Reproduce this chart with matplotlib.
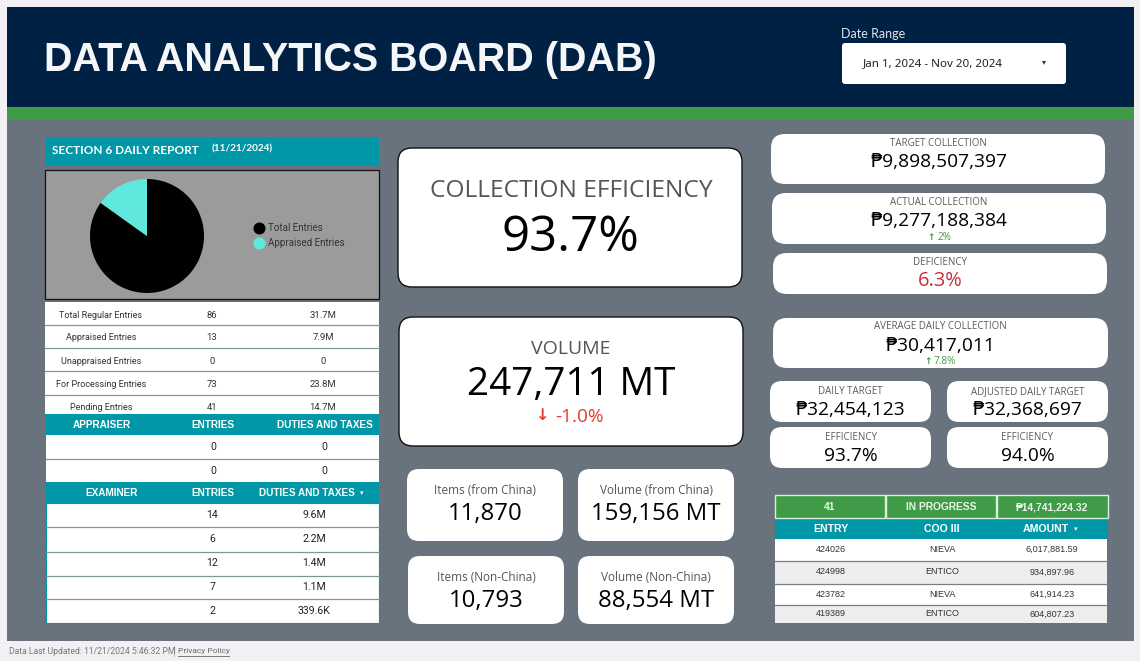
import matplotlib
matplotlib.use("Agg")
import matplotlib.pyplot as plt
from matplotlib.patches import FancyBboxPatch, Rectangle

W, H = 1140, 661

# colours
NAVY = '#002044'
GREEN = '#3f9b46'
SLATE = '#69737d'
TEAL = '#0097a7'
GREY_TXT = '#5a5a5a'
KPI_FONT = ['Open Sans', 'DejaVu Sans']
TBL_FONT = ['Roboto', 'DejaVu Sans']

# data
pie_labels = ['Total Entries', 'Appraised Entries']
pie_values = [73, 13]

summary_names = ['Total Regular Entries', 'Appraised Entries', 'Unappraised Entries',
                 'For Processing Entries', 'Pending Entries']
summary_entries = ['86', '13', '0', '73', '41']
summary_duties = ['31.7M', '7.9M', '0', '23.8M', '14.7M']

appraiser_entries = ['0', '0']
appraiser_duties = ['0', '0']

examiner_entries = ['14', '6', '12', '7', '2']
examiner_duties = ['9.6M', '2.2M', '1.4M', '1.1M', '339.6K']

progress_cells = ['41', 'IN PROGRESS', '₱14,741,224.32']
entry_ids = ['424026', '424998', '423782', '419389']
entry_coo = ['NIEVA', 'ENTICO', 'NIEVA', 'ENTICO']
entry_amounts = ['6,017,881.59', '934,897.96', '641,914.23', '604,807.23']


fig = plt.figure(figsize=(W / 100, H / 100), dpi=100, facecolor='#f1f1f3')
ax = fig.add_axes([0, 0, 1, 1])
ax.set_xlim(0, W)
ax.set_ylim(H, 0)
ax.axis('off')


def rect(x0, y0, x1, y1, color, edge='none', lw=0, z=1):
    ax.add_patch(Rectangle((x0, y0), x1 - x0, y1 - y0, facecolor=color, edgecolor=edge, linewidth=lw, zorder=z))


def card(x0, y0, x1, y1, r=14, edge='none', lw=0):
    ax.add_patch(FancyBboxPatch((x0, y0), x1 - x0, y1 - y0, boxstyle='round,pad=0,rounding_size=%d' % r,
                                facecolor='white', edgecolor=edge, linewidth=lw, zorder=2))


def txt(x, y, s, px, color='black', family=KPI_FONT, weight='normal', ha='center'):
    # px is the font size in screen pixels, open sans sits a bit high so nudge it
    if family is KPI_FONT:
        y = y + 0.08 * px
    ax.text(x, y, s, fontsize=px * 0.72, color=color, family=family, weight=weight,
            ha=ha, va='center', zorder=5)


# page frame
rect(7, 7, 1134, 107, NAVY)
rect(7, 107, 1134, 120, GREEN)
rect(7, 120, 1134, 641, SLATE)

# header
txt(44, 60, 'DATA ANALYTICS BOARD (DAB)', 39.5, '#f4f6f8', ['Liberation Sans'], 'bold', 'left')
txt(841, 34, 'Date Range', 12.5, '#dfe6ee', ['Lato'], ha='left')
ax.add_patch(FancyBboxPatch((842, 43), 224, 41, boxstyle='round,pad=0,rounding_size=3',
                            facecolor='white', edgecolor='none', zorder=2))
txt(863, 64, 'Jan 1, 2024 - Nov 20, 2024', 11.6, '#222222', ['Noto Sans'], ha='left')
txt(1044, 62, '▾', 8, '#333333', ['DejaVu Sans'])

# left column: section title and pie panel
rect(45, 137, 379, 166, TEAL)
txt(52, 150, 'SECTION 6 DAILY REPORT', 11.8, 'white', ['Lato'], 'bold', 'left')
txt(212, 149, '(11/21/2024)', 10, 'white', ['Lato'], 'bold', 'left')
rect(45, 170, 379, 299, '#9b9b9b', '#111111', 0.9)

pie_ax = fig.add_axes([90 / W, 1 - 293 / H, 114 / W, 114 / H])
pie_ax.pie(pie_values, colors=['black', '#60e8df'], startangle=90, counterclock=False, radius=1.0)
pie_ax.set_xlim(-1, 1)
pie_ax.set_ylim(-1, 1)

for y, label, c in zip([227.5, 243], pie_labels, ['black', '#60e8df']):
    ax.scatter([259], [y], s=75, color=c, linewidths=0, zorder=4)
    txt(268, y + 0.5, label, 9.8, '#333333', TBL_FONT, ha='left')

# summary table
rect(45, 302, 379, 414, 'white')
for y in [325, 348, 371, 395]:
    ax.plot([45, 379], [y, y], color='#7f978c', lw=0.9, zorder=3)
for y, n, e, d in zip([315, 338, 361, 384.5, 407.5], summary_names, summary_entries, summary_duties):
    txt(101, y, n, 9, '#333333', TBL_FONT)
    txt(212, y, e, 9.5, '#333333', TBL_FONT)
    txt(323, y, d, 9.5, '#333333', TBL_FONT)

# appraiser table
rect(46, 414, 379, 435, TEAL)
txt(102, 425, 'APPRAISER', 10, 'white', ['Liberation Sans'], 'bold')
txt(213, 425, 'ENTRIES', 10, 'white', ['Liberation Sans'], 'bold')
txt(325, 425, 'DUTIES AND TAXES', 10, 'white', ['Liberation Sans'], 'bold')
rect(46, 435, 379, 482, 'white')
ax.plot([46, 379], [459, 459], color='#7f978c', lw=0.9, zorder=3)
for y, e, d in zip([447, 470.5], appraiser_entries, appraiser_duties):
    txt(213, y, e, 10.5, '#222222', TBL_FONT)
    txt(324, y, d, 10.5, '#222222', TBL_FONT)

# examiner table
rect(46, 482, 379, 503, TEAL)
txt(112, 493.5, 'EXAMINER', 10, 'white', ['Liberation Sans'], 'bold')
txt(213, 493.5, 'ENTRIES', 10, 'white', ['Liberation Sans'], 'bold')
txt(307, 493.5, 'DUTIES AND TAXES', 10, 'white', ['Liberation Sans'], 'bold')
txt(362, 493, '▾', 7, 'white', ['DejaVu Sans'])
rect(46, 503, 379, 623, 'white', TEAL, 0.8)
for y in [526.5, 551.5, 575.5, 599]:
    ax.plot([46, 379], [y, y], color='#7f978c', lw=0.9, zorder=3)
for y, e, d in zip([514.5, 539, 563, 587, 611], examiner_entries, examiner_duties):
    txt(212, y, e, 10.5, '#222222', TBL_FONT)
    txt(314, y, d, 10.5, '#222222', TBL_FONT)

# centre column
card(398, 148, 742, 287, 14, '#111111', 1)
txt(571, 189, 'COLLECTION EFFICIENCY', 24.5, '#555555')
txt(570, 234, '93.7%', 49)

card(399, 317, 743, 446, 14, '#111111', 1)
txt(571, 347, 'VOLUME', 19.5, '#555555')
txt(571, 382, '247,711 MT', 38.6)
txt(543, 416, '↓', 16, '#e53935', ['DejaVu Sans'], 'bold')
txt(580, 415, '-1.0%', 19, '#e53935')

for x0, y0, x1, y1, title, val in [(407, 469, 563, 541, 'Items (from China)', '11,870'),
                                   (578, 469, 734, 541, 'Volume (from China)', '159,156 MT'),
                                   (408, 556, 564, 624, 'Items (Non-China)', '10,793'),
                                   (578, 556, 734, 624, 'Volume (Non-China)', '88,554 MT')]:
    card(x0, y0, x1, y1, 12)
    cx = (x0 + x1) / 2
    txt(cx, y0 + 21, title, 11.8, '#555555')
    txt(cx, y0 + 43, val, 24)

# right column
card(771, 134, 1105, 184, 14)
txt(938, 143, 'TARGET COLLECTION', 9.8, GREY_TXT)
txt(939, 160, '₱9,898,507,397', 19.2)

card(772, 193, 1106, 244, 14)
txt(939, 202, 'ACTUAL COLLECTION', 9.8, GREY_TXT)
txt(939, 219, '₱9,277,188,384', 19.2)
txt(931, 238, '↑', 9, GREEN, ['DejaVu Sans'], 'bold')
txt(944, 236.5, '2%', 10, GREEN)

card(773, 253, 1107, 294, 14)
txt(940, 262, 'DEFICIENCY', 9.8, GREY_TXT)
txt(940, 279, '6.3%', 20, '#c62f3a')

card(773, 318, 1108, 368, 14)
txt(940, 326, 'AVERAGE DAILY COLLECTION', 9.8, GREY_TXT)
txt(940, 344, '₱30,417,011', 19.2)
txt(928, 362, '↑', 9, GREEN, ['DejaVu Sans'], 'bold')
txt(945, 360.5, '7.8%', 10, GREEN)

for x0, x1, y0, y1, title, val in [(770, 931, 381, 422, 'DAILY TARGET', '₱32,454,123'),
                                   (947, 1108, 381, 422, 'ADJUSTED DAILY TARGET', '₱32,368,697'),
                                   (770, 931, 427, 468, 'EFFICIENCY', '93.7%'),
                                   (947, 1108, 427, 468, 'EFFICIENCY', '94.0%')]:
    card(x0, y0, x1, y1, 12)
    cx = (x0 + x1) / 2
    txt(cx, y0 + 10, title, 9.8, GREY_TXT)
    txt(cx, y0 + 27, val, 19.2)

# in progress table
for (x0, x1), s in zip([(775, 885), (886, 996), (997, 1108)], progress_cells):
    rect(x0, 495, x1, 518, GREEN, '#d8f0dc', 1, z=2)
    txt((x0 + x1) / 2, 507.5, s, 10.2, '#eaf5ea', ['Liberation Sans'], 'bold')

rect(775, 518, 1108, 539, TEAL)
txt(831, 529.5, 'ENTRY', 10.5, 'white', ['Liberation Sans'], 'bold')
txt(942, 529.5, 'COO III', 10.5, 'white', ['Liberation Sans'], 'bold')
txt(1046, 529.5, 'AMOUNT', 10.5, 'white', ['Liberation Sans'], 'bold')
txt(1076, 529, '▾', 7, 'white', ['DejaVu Sans'])

row_edges = [539, 560.5, 583.5, 605, 623]
for i in range(len(entry_ids)):
    rect(775, row_edges[i], 1107, row_edges[i + 1], 'white' if i % 2 == 0 else '#eeeeee')
    cy = (row_edges[i] + row_edges[i + 1]) / 2
    txt(831, cy, entry_ids[i], 9, '#333333', ['Liberation Sans'])
    txt(942, cy, entry_coo[i], 9, '#333333', ['Liberation Sans'])
    txt(1052, cy, entry_amounts[i], 9, '#333333', ['Liberation Sans'])
    if i > 0:
        ax.plot([775, 1107], [row_edges[i], row_edges[i]], color='#77808a', lw=0.9, zorder=3)

# footer
txt(9, 651, 'Data Last Updated: 11/21/2024 5:46:32 PM', 8.6, '#777777', TBL_FONT, ha='left')
ax.plot([173.5, 173.5], [646, 656], color='#bbbbbb', lw=0.8)
txt(178, 651, 'Privacy Policy', 8.4, '#666666', TBL_FONT, ha='left')
ax.plot([178, 229], [655.5, 655.5], color='#666666', lw=0.6)

fig.savefig('out.png', dpi=100)
